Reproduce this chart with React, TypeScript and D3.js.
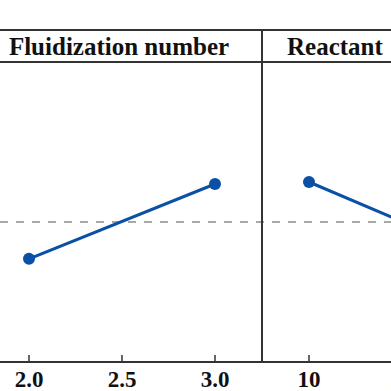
import React from "react";
import * as d3 from "d3";

const panels = ["Fluidization number", "Reactant"];
const fluidLevels = [2.0, 3.0];
const fluidMeans = [38.9, 48.25];
const fluidTicks = [2.0, 2.5, 3.0];
const fluidTickLabels = ["2.0", "2.5", "3.0"];
const reactLevels = [10, 30];
const reactMeans = [48.5, 38.6];
const reactTicks = [10, 20, 30];
const reactTickLabels = ["10", "20", "30"];
const grandMean = 43.5;

const W = 391;
const H = 391;
const headerTop = 30;
const plotTop = 62;
const plotBottom = 362;
const BLUE = "#0a50a5";
const AXIS = "#333";
const FONT = "'Liberation Serif', 'Times New Roman', serif";

export default function App() {
  const panelScale = d3.scaleBand<string>().domain(panels).range([-18, 542]).paddingInner(0);
  const y = d3.scaleLinear().domain([26, 63.5]).range([plotBottom, plotTop]);
  const bw = panelScale.bandwidth();

  const panelData = [
    { name: panels[0], levels: fluidLevels, means: fluidMeans, ticks: fluidTicks, labels: fluidTickLabels },
    { name: panels[1], levels: reactLevels, means: reactMeans, ticks: reactTicks, labels: reactTickLabels },
  ];

  const line = d3.line<[number, number]>().x((d) => d[0]).y((d) => d[1]);

  return (
    <svg width={W} height={H} style={{ position: "absolute", left: 0, top: 0, background: "#fff" }}>
      <line x1={0} x2={W} y1={y(grandMean)} y2={y(grandMean)} stroke="#a8a8a8" strokeWidth={2} strokeDasharray="8,8" />
      {panelData.map((p, i) => {
        const x0 = panelScale(p.name)!;
        const x = d3.scaleLinear().domain([p.levels[0], p.levels[p.levels.length - 1]]).range([x0 + 47, x0 + 233]);
        const pts: [number, number][] = p.levels.map((l, j) => [x(l), y(p.means[j])]);
        return (
          <g key={p.name}>
            <text
              x={i === 0 ? x0 + bw / 2 - 3 : x0 + 25}
              y={55}
              textAnchor={i === 0 ? "middle" : "start"}
              fontFamily={FONT}
              fontWeight="bold"
              fontSize={25}
              fill="#111"
            >
              {p.name}
            </text>
            {p.ticks.map((t, j) => (
              <g key={j}>
                <line x1={x(t)} x2={x(t)} y1={plotBottom} y2={plotBottom - 7} stroke={AXIS} strokeWidth={1.5} />
                <text x={x(t)} y={387} textAnchor="middle" fontFamily={FONT} fontWeight="bold" fontSize={23} fill="#111">
                  {p.labels[j]}
                </text>
              </g>
            ))}
            <path d={line(pts) || ""} fill="none" stroke={BLUE} strokeWidth={3} />
            {pts.map((pt, j) => (
              <circle key={j} cx={pt[0]} cy={pt[1]} r={6} fill={BLUE} />
            ))}
            {i > 0 && <line x1={x0} x2={x0} y1={headerTop} y2={plotBottom} stroke={AXIS} strokeWidth={2} />}
          </g>
        );
      })}
      <line x1={0} x2={W} y1={headerTop} y2={headerTop} stroke={AXIS} strokeWidth={2} />
      <line x1={0} x2={W} y1={plotTop} y2={plotTop} stroke={AXIS} strokeWidth={2} />
      <line x1={0} x2={W} y1={plotBottom} y2={plotBottom} stroke={AXIS} strokeWidth={2} />
    </svg>
  );
}
